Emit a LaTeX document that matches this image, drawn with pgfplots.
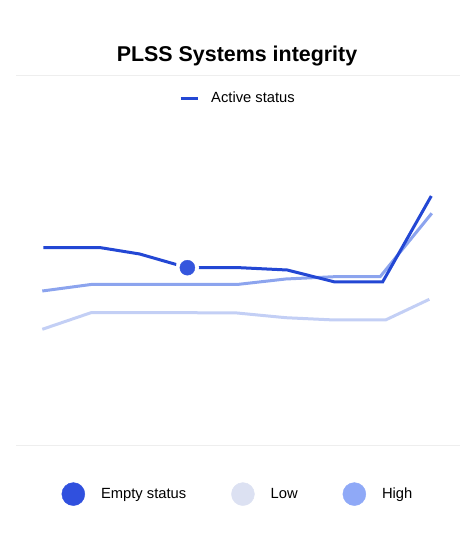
\documentclass[border=0pt]{standalone}
\usepackage{pgfplots}
\pgfplotsset{compat=1.18}
\usepackage{fontspec}
\setmainfont{Liberation Sans}

\definecolor{activeblue}{HTML}{2347D4}
\definecolor{dotblue}{HTML}{3556DD}
\definecolor{highline}{HTML}{8CA4EE}
\definecolor{lowline}{HTML}{C3CFF5}
\definecolor{emptycirc}{HTML}{3050DE}
\definecolor{lowcirc}{HTML}{DCE1F2}
\definecolor{highcirc}{HTML}{8FA9F7}
\definecolor{sepgray}{HTML}{EEEEEE}

\begin{document}
\begin{tikzpicture}[x=1bp,y=1bp]
\path[use as bounding box] (0,0) rectangle (474,550);

\node[font=\bfseries\fontsize{21.5}{24}\selectfont] at (237,494) {PLSS Systems integrity};

\pgfplotsset{
  chartbox/.style={
    at={(16bp,104bp)}, anchor=south west,
    width=444bp, height=370bp, scale only axis,
    xmin=-0.54, xmax=8.58, ymin=0, ymax=370,
    axis x line=box, axis y line=none,
    x axis line style={sepgray, line width=1bp},
    xtick=\empty, ytick=\empty,
    clip=false,
  },
}

\begin{axis}[
    chartbox,
    legend style={at={(axis description cs:0.5,0.94)}, anchor=center,
        draw=none, fill=none, font=\fontsize{14.8}{17}\selectfont,
        /tikz/every odd column/.append style={column sep=10bp}},
    legend cell align=left,
    legend image code/.code={\draw[#1, line width=3bp] (0bp,0bp) -- (17bp,0bp);},
]

\addplot[lowline, line width=3bp, forget plot] coordinates {
    (0,116.7)(1,133.3)(2,133.3)(3,133.3)(4,133)(5,128.3)(6,126)(7.05,126)(7.95,146.7)
};

\addplot[highline, line width=3bp, forget plot] coordinates {
    (0,155)(1,161.5)(2,161.5)(3,161.5)(4,161.5)(5,167)(6,169.3)(6.94,169.3)(8,232.7)
};

\addplot[activeblue, line width=3bp] coordinates {
    (0.02,198.3)(1.2,198.3)(2,192)(2.98,178.3)(4.06,178.3)(5.03,176)(6.01,164)(6.99,164)(7.99,250)
};
\addlegendentry{Active status}

\addplot[only marks, mark=*, mark size=11.5bp, white, forget plot] coordinates {(2.98,178.3)};
\addplot[only marks, mark=*, mark size=7.5bp, dotblue, forget plot] coordinates {(2.98,178.3)};
\end{axis}

\begin{axis}[
    chartbox,
    axis x line=none,
    legend columns=3,
    legend style={at={(axis description cs:0.5,-0.13)}, anchor=center,
        draw=none, fill=none, font=\fontsize{14.8}{17}\selectfont,
        /tikz/every odd column/.append style={column sep=14bp},
        /tikz/every even column/.append style={column sep=43bp}},
    legend cell align=left,
    legend image code/.code={\fill[#1] (11.5bp,0bp) circle (11.5bp);},
]
\addlegendimage{emptycirc}
\addlegendentry{Empty status}
\addlegendimage{lowcirc}
\addlegendentry{Low}
\addlegendimage{highcirc}
\addlegendentry{High}
\end{axis}
\end{tikzpicture}
\end{document}
